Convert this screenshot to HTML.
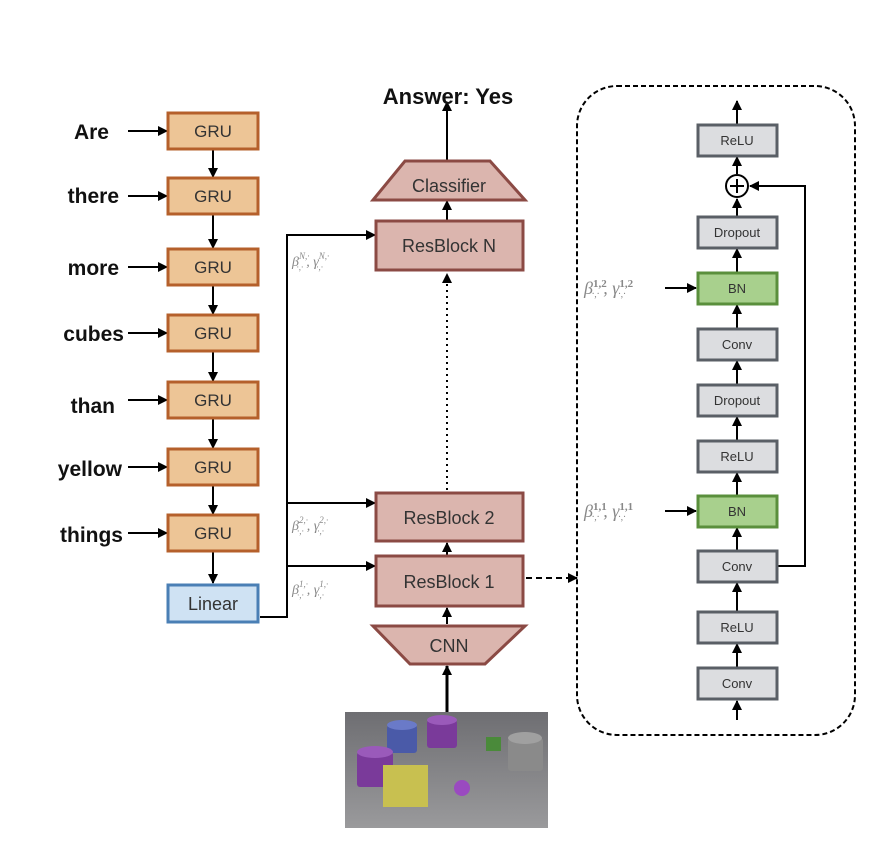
<!DOCTYPE html>
<html><head><meta charset="utf-8"><style>
body{margin:0;background:#fff;}
svg{display:block;font-family:"Liberation Sans",sans-serif;}
.w{font-weight:bold;font-size:21px;fill:#111;}
.g{font-size:17px;fill:#333;text-anchor:middle;}
.s{font-size:13px;fill:#333;text-anchor:middle;}
.m{font-family:"Liberation Serif",serif;font-style:italic;fill:#888;font-size:14px;}
.m2{font-family:"Liberation Serif",serif;font-style:italic;fill:#888;font-size:18px;}
</style></head><body>
<svg width="896" height="862" viewBox="0 0 896 862">
<defs>
<marker id="a" markerWidth="10" markerHeight="10" refX="9" refY="5" orient="auto" markerUnits="userSpaceOnUse"><path d="M0,0L10,5L0,10z" fill="#000"/></marker>
<linearGradient id="bg" x1="0" y1="0" x2="0" y2="1"><stop offset="0" stop-color="#6e6e72"/><stop offset="1" stop-color="#9a9a9c"/></linearGradient>
</defs>
<g stroke="#000" stroke-width="2" fill="none">
<line x1="128" y1="131" x2="167" y2="131" marker-end="url(#a)"/>
<line x1="128" y1="196" x2="167" y2="196" marker-end="url(#a)"/>
<line x1="128" y1="267" x2="167" y2="267" marker-end="url(#a)"/>
<line x1="128" y1="333" x2="167" y2="333" marker-end="url(#a)"/>
<line x1="128" y1="400" x2="167" y2="400" marker-end="url(#a)"/>
<line x1="128" y1="467" x2="167" y2="467" marker-end="url(#a)"/>
<line x1="128" y1="533" x2="167" y2="533" marker-end="url(#a)"/>
<line x1="213" y1="150" x2="213" y2="177" marker-end="url(#a)"/>
<line x1="213" y1="215" x2="213" y2="248" marker-end="url(#a)"/>
<line x1="213" y1="286" x2="213" y2="314" marker-end="url(#a)"/>
<line x1="213" y1="352" x2="213" y2="381" marker-end="url(#a)"/>
<line x1="213" y1="419" x2="213" y2="448" marker-end="url(#a)"/>
<line x1="213" y1="486" x2="213" y2="514" marker-end="url(#a)"/>
<line x1="213" y1="552" x2="213" y2="583" marker-end="url(#a)"/>
<polyline points="260,617 287,617 287,235 375,235" marker-end="url(#a)"/>
<line x1="287" y1="503" x2="375" y2="503" marker-end="url(#a)"/>
<line x1="287" y1="566" x2="375" y2="566" marker-end="url(#a)"/>
<line x1="447" y1="160" x2="447" y2="102" marker-end="url(#a)"/>
<line x1="447" y1="220" x2="447" y2="201" marker-end="url(#a)"/>
<line x1="447" y1="490" x2="447" y2="274" stroke-dasharray="2,4" marker-end="url(#a)"/>
<line x1="447" y1="555" x2="447" y2="543" marker-end="url(#a)"/>
<line x1="447" y1="624" x2="447" y2="608" marker-end="url(#a)"/>
<line x1="447" y1="712" x2="447" y2="666" stroke-width="3" marker-end="url(#a)"/>
<line x1="526" y1="578" x2="577" y2="578" stroke-dasharray="6,4" marker-end="url(#a)"/>
<rect x="577" y="86" width="278" height="649" rx="40" stroke-dasharray="5,3"/>
<line x1="737" y1="720" x2="737" y2="701" marker-end="url(#a)"/>
<line x1="737" y1="667" x2="737" y2="644" marker-end="url(#a)"/>
<line x1="737" y1="611" x2="737" y2="583" marker-end="url(#a)"/>
<line x1="737" y1="550" x2="737" y2="528" marker-end="url(#a)"/>
<line x1="737" y1="495" x2="737" y2="473" marker-end="url(#a)"/>
<line x1="737" y1="440" x2="737" y2="417" marker-end="url(#a)"/>
<line x1="737" y1="384" x2="737" y2="361" marker-end="url(#a)"/>
<line x1="737" y1="328" x2="737" y2="305" marker-end="url(#a)"/>
<line x1="737" y1="272" x2="737" y2="249" marker-end="url(#a)"/>
<line x1="737" y1="216" x2="737" y2="199" marker-end="url(#a)"/>
<line x1="737" y1="174" x2="737" y2="157" marker-end="url(#a)"/>
<line x1="737" y1="124" x2="737" y2="101" marker-end="url(#a)"/>
<polyline points="777,566 805,566 805,186 750,186" marker-end="url(#a)"/>
<line x1="665" y1="288" x2="696" y2="288" marker-end="url(#a)"/>
<line x1="665" y1="511" x2="696" y2="511" marker-end="url(#a)"/>
<circle cx="737" cy="186" r="11"/>
<line x1="730" y1="186" x2="744" y2="186"/><line x1="737" y1="179" x2="737" y2="193"/>
</g>
<g class="w" text-anchor="end">
<text x="109" y="139">Are</text><text x="119" y="203">there</text><text x="119" y="275">more</text>
<text x="124" y="341">cubes</text><text x="115" y="413">than</text><text x="122" y="476">yellow</text><text x="123" y="542">things</text>
</g>
<g stroke="#b5602b" stroke-width="3" fill="#edc596">
<rect x="168" y="113" width="90" height="36"/><rect x="168" y="178" width="90" height="36"/>
<rect x="168" y="249" width="90" height="36"/><rect x="168" y="315" width="90" height="36"/>
<rect x="168" y="382" width="90" height="36"/><rect x="168" y="449" width="90" height="36"/>
<rect x="168" y="515" width="90" height="36"/>
</g>
<g class="g">
<text x="213" y="137">GRU</text><text x="213" y="202">GRU</text><text x="213" y="273">GRU</text>
<text x="213" y="339">GRU</text><text x="213" y="406">GRU</text><text x="213" y="473">GRU</text><text x="213" y="539">GRU</text>
</g>
<rect x="168" y="585" width="90" height="37" fill="#cfe2f3" stroke="#4a7fb5" stroke-width="3"/>
<text x="213" y="610" class="g" style="font-size:18px">Linear</text>
<g fill="#dbb5ae" stroke="#8b4a44" stroke-width="3">
<path d="M373,200 L525,200 L490,161 L405,161 Z"/>
<rect x="376" y="221" width="147" height="49"/>
<rect x="376" y="493" width="147" height="48"/>
<rect x="376" y="556" width="147" height="50"/>
<path d="M373,626 L525,626 L485,664 L410,664 Z"/>
</g>
<g class="g" style="font-size:18px">
<text x="449" y="192">Classifier</text><text x="449" y="252">ResBlock N</text>
<text x="449" y="524">ResBlock 2</text><text x="449" y="588">ResBlock 1</text><text x="449" y="652">CNN</text>
</g>
<text x="448" y="104" class="w" text-anchor="middle" style="font-size:22px">Answer: Yes</text>
<text x="292" y="266" class="m">β<tspan dy="-7" font-size="9">N,·</tspan><tspan dy="11" dx="-13" font-size="9">·,·</tspan><tspan dy="-4" dx="3">, γ</tspan><tspan dy="-7" font-size="9">N,·</tspan><tspan dy="11" dx="-13" font-size="9">·,·</tspan></text>
<text x="292" y="530" class="m">β<tspan dy="-7" font-size="9">2,·</tspan><tspan dy="11" dx="-11" font-size="9">·,·</tspan><tspan dy="-4" dx="3">, γ</tspan><tspan dy="-7" font-size="9">2,·</tspan><tspan dy="11" dx="-11" font-size="9">·,·</tspan></text>
<text x="292" y="594" class="m">β<tspan dy="-7" font-size="9">1,·</tspan><tspan dy="11" dx="-11" font-size="9">·,·</tspan><tspan dy="-4" dx="3">, γ</tspan><tspan dy="-7" font-size="9">1,·</tspan><tspan dy="11" dx="-11" font-size="9">·,·</tspan></text>
<text x="584" y="294" class="m2">β<tspan dy="-7" font-size="11" font-style="normal" font-weight="bold">1,2</tspan><tspan dy="10" dx="-15" font-size="10">·,·</tspan><tspan dy="-3" dx="4">, γ</tspan><tspan dy="-7" font-size="11" font-style="normal" font-weight="bold">1,2</tspan><tspan dy="10" dx="-15" font-size="10">·,·</tspan></text>
<text x="584" y="517" class="m2">β<tspan dy="-7" font-size="11" font-style="normal" font-weight="bold">1,1</tspan><tspan dy="10" dx="-15" font-size="10">·,·</tspan><tspan dy="-3" dx="4">, γ</tspan><tspan dy="-7" font-size="11" font-style="normal" font-weight="bold">1,1</tspan><tspan dy="10" dx="-15" font-size="10">·,·</tspan></text>
<g stroke="#5a5f66" stroke-width="3" fill="#dcdde0">
<rect x="698" y="125" width="79" height="31"/>
<rect x="698" y="217" width="79" height="31"/>
<rect x="698" y="329" width="79" height="31"/>
<rect x="698" y="385" width="79" height="31"/>
<rect x="698" y="441" width="79" height="31"/>
<rect x="698" y="551" width="79" height="31"/>
<rect x="698" y="612" width="79" height="31"/>
<rect x="698" y="668" width="79" height="31"/>
</g>
<g stroke="#5a8f3c" stroke-width="3" fill="#a8d08d">
<rect x="698" y="273" width="79" height="31"/>
<rect x="698" y="496" width="79" height="31"/>
</g>
<g class="s">
<text x="737" y="145">ReLU</text><text x="737" y="237">Dropout</text><text x="737" y="293">BN</text>
<text x="737" y="349">Conv</text><text x="737" y="405">Dropout</text><text x="737" y="461">ReLU</text>
<text x="737" y="516">BN</text><text x="737" y="571">Conv</text><text x="737" y="632">ReLU</text><text x="737" y="688">Conv</text>
</g>
<rect x="345" y="712" width="203" height="116" fill="url(#bg)"/>
<ellipse cx="400" cy="730" rx="8" ry="8" fill="#8a6a3a"/>
<rect x="387" y="725" width="30" height="28" fill="#4a5aa8" rx="3"/>
<ellipse cx="402" cy="725" rx="15" ry="5" fill="#6a7ac8"/>
<rect x="427" y="720" width="30" height="28" fill="#7a3a9a" rx="3"/>
<ellipse cx="442" cy="720" rx="15" ry="5" fill="#9a5aba"/>
<rect x="357" y="752" width="36" height="35" fill="#7a3a9a" rx="3"/>
<ellipse cx="375" cy="752" rx="18" ry="6" fill="#9a5aba"/>
<rect x="383" y="765" width="45" height="42" fill="#c8c050"/>
<rect x="486" y="737" width="15" height="14" fill="#4a8a3a"/>
<rect x="508" y="738" width="35" height="33" fill="#8a8a8a" rx="3"/>
<ellipse cx="525" cy="738" rx="17" ry="6" fill="#a0a0a0"/>
<circle cx="462" cy="788" r="8" fill="#9a4ac0"/>
</svg>
</body></html>
